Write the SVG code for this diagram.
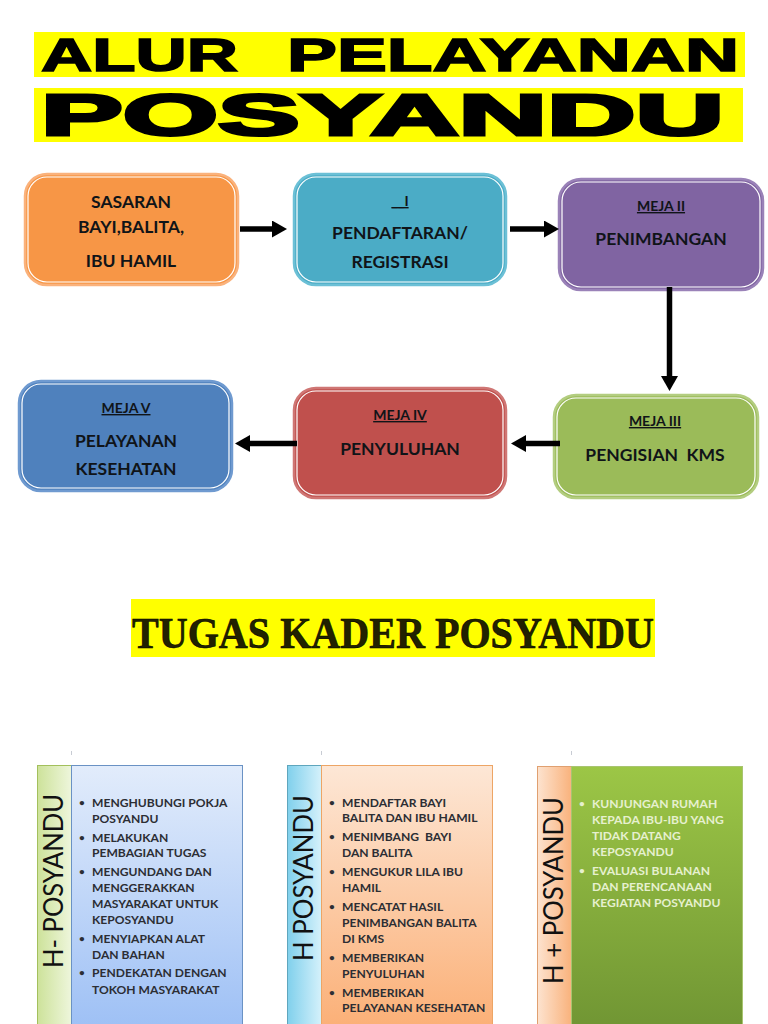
<svg xmlns="http://www.w3.org/2000/svg" width="768" height="1024" viewBox="0 0 768 1024">
<style>
.y{fill:#ffff00}
.inner{fill:none;stroke:#fff;stroke-width:1.200}
.t{font-family:Lato,"Open Sans",sans-serif;font-weight:700;fill:#101418;text-anchor:middle}
.big{font-size:17.5px}
.small{font-size:14px;text-decoration:underline}
.li{font-family:Lato,"Open Sans",sans-serif;font-weight:700;font-size:12.100px;fill:#2c2e34}
.li2{font-family:Lato,"Open Sans",sans-serif;font-weight:700;font-size:12.100px;fill:#e6f0cf}
.b{font-size:10px;text-anchor:middle}
.side{font-family:Lato,"Open Sans",sans-serif;font-size:27px;fill:#111}
.arrow{fill:none;stroke:#000;stroke-width:5.500;marker-end:url(#head)}
.ti{font-family:"Liberation Sans",sans-serif;font-weight:700;fill:#000;stroke:#000}
</style>
<defs>
<marker id="head" markerUnits="userSpaceOnUse" markerWidth="16" markerHeight="18" refX="6" refY="8.500" orient="auto"><path d="M0 0L15 8.500L0 17Z" fill="#000"/></marker>
<linearGradient id="gb" x1="0" y1="0" x2="0" y2="1"><stop offset="0" stop-color="#e2ecfb"/><stop offset="1" stop-color="#9cbff5"/></linearGradient>
<linearGradient id="go" x1="0" y1="0" x2="0" y2="1"><stop offset="0" stop-color="#fde7d6"/><stop offset="1" stop-color="#fbae74"/></linearGradient>
<linearGradient id="gg" x1="0" y1="0" x2="0" y2="1"><stop offset="0" stop-color="#9cc646"/><stop offset="1" stop-color="#6f9433"/></linearGradient>
<linearGradient id="t1" x1="0" y1="0" x2="1" y2="0"><stop offset="0" stop-color="#cde29a"/><stop offset="1" stop-color="#eef6dc"/></linearGradient>
<linearGradient id="t2" x1="0" y1="0" x2="1" y2="0"><stop offset="0" stop-color="#80d0ec"/><stop offset="1" stop-color="#d5f1fb"/></linearGradient>
<linearGradient id="t3" x1="0" y1="0" x2="1" y2="0"><stop offset="0" stop-color="#fde3cf"/><stop offset="1" stop-color="#f9b27c"/></linearGradient>
</defs>
<rect width="768" height="1024" fill="#fff"/>

<g id="title-1"><rect class="y" x="34" y="32" width="711" height="45"/>
<text class="ti" x="41" y="71" font-size="46" stroke-width="1.500" textLength="197" lengthAdjust="spacingAndGlyphs">ALUR</text>
<text class="ti" x="287" y="71" font-size="46" stroke-width="1.500" textLength="452" lengthAdjust="spacingAndGlyphs">PELAYANAN</text></g>
<g id="title-2"><rect class="y" x="34" y="88" width="709" height="54"/>
<text class="ti" x="41" y="135" font-size="58" stroke-width="3" textLength="683" lengthAdjust="spacingAndGlyphs">POSYANDU</text></g>

<g id="node-sasaran"><rect x="25" y="174" width="213" height="111" rx="22" fill="#f79646" stroke="#fab27c" stroke-width="2.500"/><rect class="inner" x="28" y="177" width="207" height="105" rx="19"/>
<text class="t big" x="131" y="208">SASARAN</text><text class="t big" x="131" y="233">BAYI,BALITA,</text><text class="t big" x="131" y="267">IBU HAMIL</text></g>

<g id="node-meja-1"><rect x="294" y="174" width="212" height="111" rx="22" fill="#4bacc6" stroke="#6cc0d6" stroke-width="2.500"/><rect class="inner" x="297" y="177" width="206" height="105" rx="19"/>
<text class="t small" x="400" y="206" xml:space="preserve">__I</text><text class="t big" x="400" y="239">PENDAFTARAN/</text><text class="t big" x="400" y="268">REGISTRASI</text></g>

<g id="node-meja-2"><rect x="559" y="179" width="204" height="111" rx="22" fill="#8064a2" stroke="#9a82b8" stroke-width="2.500"/><rect class="inner" x="562" y="182" width="198" height="105" rx="19"/>
<text class="t small" x="661" y="211">MEJA II</text><text class="t big" x="661" y="245">PENIMBANGAN</text></g>

<g id="node-meja-3"><rect x="554" y="395" width="204" height="103" rx="22" fill="#9bbb59" stroke="#b3cd80" stroke-width="2.500"/><rect class="inner" x="557" y="398" width="198" height="97" rx="19"/>
<text class="t small" x="655" y="426">MEJA III</text><text class="t big" x="655" y="461" xml:space="preserve">PENGISIAN  KMS</text></g>

<g id="node-meja-4"><rect x="294" y="388" width="212" height="110" rx="22" fill="#c0504d" stroke="#cf7674" stroke-width="2.500"/><rect class="inner" x="297" y="391" width="206" height="104" rx="19"/>
<text class="t small" x="400" y="420">MEJA IV</text><text class="t big" x="400" y="455">PENYULUHAN</text></g>

<g id="node-meja-5"><rect x="19" y="381" width="213" height="110" rx="22" fill="#4f81bd" stroke="#6f9ad0" stroke-width="2.500"/><rect class="inner" x="22" y="384" width="207" height="104" rx="19"/>
<text class="t small" x="126" y="413">MEJA V</text><text class="t big" x="126" y="447">PELAYANAN</text><text class="t big" x="126" y="475">KESEHATAN</text></g>

<g id="connectors">
<path class="arrow" d="M240 229H278"/>
<path class="arrow" d="M510 229H550"/>
<path class="arrow" d="M669.500 287V382"/>
<path class="arrow" d="M560 443.500H520"/>
<path class="arrow" d="M297 443.500H244"/>
</g>

<g id="heading-tugas"><rect class="y" x="131" y="599" width="524" height="58"/>
<text x="132" y="648" font-family="Liberation Serif,serif" font-weight="700" font-size="45" fill="#222200" stroke="#000" stroke-width=".6" textLength="522" lengthAdjust="spacingAndGlyphs">TUGAS KADER POSYANDU</text></g>

<g id="panel-h-minus">
<rect x="71" y="751" width="1" height="4" fill="#c8ccd4"/>
<rect x="37.500" y="765.500" width="34" height="270" fill="url(#t1)" stroke="#a3c05c"/>
<rect x="71.500" y="765.500" width="171" height="270" fill="url(#gb)" stroke="#6a92c4"/>
<text class="side" transform="translate(63 968) rotate(-90)" textLength="174" lengthAdjust="spacingAndGlyphs">H- POSYANDU</text>
<g class="li">
<text class="b" x="82" y="806">•</text><text x="92" y="807">MENGHUBUNGI POKJA</text><text x="92" y="823">POSYANDU</text>
<text class="b" x="82" y="841">•</text><text x="92" y="842">MELAKUKAN</text><text x="92" y="857">PEMBAGIAN TUGAS</text>
<text class="b" x="82" y="875">•</text><text x="92" y="876">MENGUNDANG DAN</text><text x="92" y="892">MENGGERAKKAN</text><text x="92" y="908">MASYARAKAT UNTUK</text><text x="92" y="924">KEPOSYANDU</text>
<text class="b" x="82" y="942">•</text><text x="92" y="943">MENYIAPKAN ALAT</text><text x="92" y="959">DAN BAHAN</text>
<text class="b" x="82" y="976">•</text><text x="92" y="977">PENDEKATAN DENGAN</text><text x="92" y="994">TOKOH MASYARAKAT</text>
</g></g>

<g id="panel-h">
<rect x="321" y="751" width="1" height="4" fill="#c8ccd4"/>
<rect x="287.500" y="765.500" width="34" height="270" fill="url(#t2)" stroke="#5fa6bd"/>
<rect x="321.500" y="765.500" width="171" height="270" fill="url(#go)" stroke="#eda565"/>
<text class="side" transform="translate(313 961) rotate(-90)" textLength="166" lengthAdjust="spacingAndGlyphs">H POSYANDU</text>
<g class="li">
<text class="b" x="332" y="806">•</text><text x="342" y="807">MENDAFTAR BAYI</text><text x="342" y="822">BALITA DAN IBU HAMIL</text>
<text class="b" x="332" y="840">•</text><text x="342" y="841" xml:space="preserve">MENIMBANG  BAYI</text><text x="342" y="857">DAN BALITA</text>
<text class="b" x="332" y="875">•</text><text x="342" y="876">MENGUKUR LILA IBU</text><text x="342" y="892">HAMIL</text>
<text class="b" x="332" y="910">•</text><text x="342" y="911">MENCATAT HASIL</text><text x="342" y="927">PENIMBANGAN BALITA</text><text x="342" y="943">DI KMS</text>
<text class="b" x="332" y="961">•</text><text x="342" y="962">MEMBERIKAN</text><text x="342" y="978">PENYULUHAN</text>
<text class="b" x="332" y="996">•</text><text x="342" y="997">MEMBERIKAN</text><text x="342" y="1012">PELAYANAN KESEHATAN</text>
</g></g>

<g id="panel-h-plus">
<rect x="571" y="751" width="1" height="4" fill="#c8ccd4"/>
<rect x="537.500" y="766.500" width="34" height="270" fill="url(#t3)" stroke="#e0a070"/>
<rect x="571.500" y="766.500" width="171" height="270" fill="url(#gg)" stroke="#a8c470"/>
<text class="side" transform="translate(563 984) rotate(-90)" textLength="187" lengthAdjust="spacingAndGlyphs">H + POSYANDU</text>
<g class="li2">
<text class="b" x="582" y="807">•</text><text x="592" y="808">KUNJUNGAN RUMAH</text><text x="592" y="824">KEPADA IBU-IBU YANG</text><text x="592" y="840">TIDAK DATANG</text><text x="592" y="856">KEPOSYANDU</text>
<text class="b" x="582" y="874">•</text><text x="592" y="875">EVALUASI BULANAN</text><text x="592" y="891">DAN PERENCANAAN</text><text x="592" y="907">KEGIATAN POSYANDU</text>
</g></g>
</svg>
